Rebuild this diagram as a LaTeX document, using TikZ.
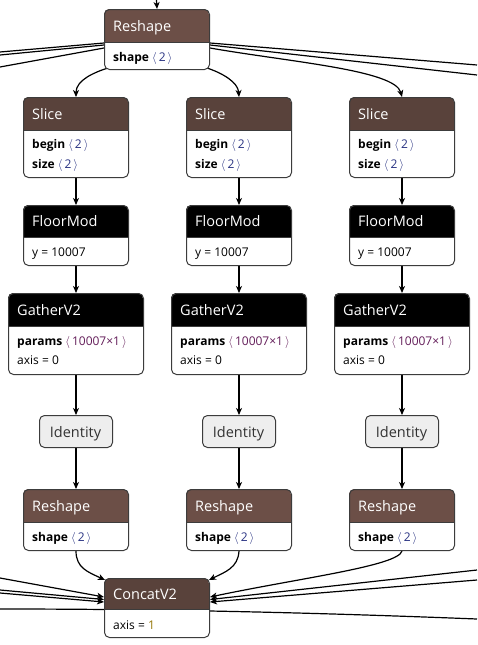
\documentclass[tikz,border=0pt]{standalone}
\usepackage{fontspec}
\setmainfont{Open Sans}
\usetikzlibrary{arrows.meta,calc}
\pgfdeclarelayer{bg}
\pgfsetlayers{bg,main}
\definecolor{shapec}{RGB}{108,79,71}
\definecolor{tensc}{RGB}{89,66,59}
\definecolor{bordc}{RGB}{60,60,60}
\definecolor{idfill}{RGB}{238,238,238}
\definecolor{shpc}{RGB}{40,50,130}
\definecolor{prmc}{RGB}{100,30,90}
\definecolor{numc}{RGB}{150,120,10}
\newcommand\shp[2][shpc]{{\color{#1}$\langle\,$#2$\,\rangle$}}
\newcommand\opbox[8]{%
  \begin{scope}
    \clip[rounded corners=5pt] (#2,#3) rectangle ++(#4,#6);
    \fill[#7] (#2,#3) rectangle ++(#4,#5);
    \fill[white] (#2,#3+#5) rectangle ++(#4,#6-#5);
  \end{scope}
  \draw[bordc, line width=0.8pt] (#2,#3+#5) -- ++(#4,0);
  \node[boxn, minimum width=#4pt, minimum height=#6pt] (#1) at (#2,#3) {};
  \node[titlen] at (#2+9,#3+#5/2+5.5) {#8};
}
\begin{document}
\begin{tikzpicture}[x=1pt,y=-1pt,
  boxn/.style={draw=bordc, line width=1pt, rounded corners=5pt, inner sep=0pt, anchor=north west},
  titlen/.style={anchor=base west, inner sep=0pt, text=white, font=\fontsize{14.5}{16}\selectfont},
  rown/.style={anchor=base west, inner sep=0pt, font=\fontsize{12}{14}\selectfont},
  idn/.style={draw=bordc, line width=1pt, fill=idfill, rounded corners=5pt, inner sep=0pt, minimum width=73pt, minimum height=32pt, anchor=north west},
  idt/.style={anchor=base, inner sep=0pt, text=black!80, font=\fontsize{14.5}{16}\selectfont},
  edge/.style={line width=1.2pt, draw=black},
  arr/.style={edge, -{Stealth[length=7pt,width=6pt,inset=2pt]}},
]
\useasboundingbox (0,0) rectangle (477,645);
% top reshape
\opbox{rt}{104}{9}{105}{33}{60}{shapec}{Reshape}
\node[rown] at (113,61) {\textbf{shape}\ \shp{2}};
% columns
\foreach \i/\dx in {1/0,2/163,3/326}{
  \opbox{sl\i}{23+\dx}{97}{105}{33}{80}{tensc}{Slice}
  \node[rown] at (32+\dx,148) {\textbf{begin}\ \shp{2}};
  \node[rown] at (32+\dx,168) {\textbf{size}\ \shp{2}};
  \opbox{fm\i}{23+\dx}{205}{105}{32}{60}{black}{FloorMod}
  \node[rown] at (32+\dx,256) {y = 10007};
  \opbox{gv\i}{8+\dx}{293}{135}{33}{81}{black}{GatherV2}
  \node[rown] at (17+\dx,345) {\textbf{params}\ \shp[prmc]{10007×1}};
  \node[rown] at (17+\dx,364) {axis = 0};
  \node[idn] (id\i) at (39+\dx,415) {};
  \node[idt] at (75.5+\dx,437) {Identity};
  \opbox{rb\i}{23+\dx}{489}{105}{33}{61}{shapec}{Reshape}
  \node[rown] at (32+\dx,541) {\textbf{shape}\ \shp{2}};
}
% concat
\opbox{cc}{104}{578}{105}{31}{59}{tensc}{ConcatV2}
\node[rown] at (113,629) {axis = {\color{numc}1}};
\begin{pgfonlayer}{bg}
  \fill[white] (0,0) rectangle (477,645);
  \coordinate (tin) at (156.5,0);
  \draw[arr] (tin) -- (rt.north);
  \coordinate (lo1) at (0,52);
  \coordinate (lo2) at (0,55);
  \coordinate (lo3) at (0,67);
  \draw[edge] ($(rt.north west)+(0,34)$) -- (lo1);
  \draw[edge] ($(rt.north west)+(0,36)$) -- (lo2);
  \draw[edge] ($(rt.north west)+(0,39)$) -- (lo3);
  \coordinate (ro1) at (477,65);
  \coordinate (ro2) at (477,75);
  \draw[edge] ($(rt.north east)+(0,34)$) -- (ro1);
  \draw[edge] ($(rt.north east)+(0,36)$) -- (ro2);
  \draw[arr] ($(rt.north east)+(0,39)$) .. controls (290,62) and (395,70) .. (sl3.north);
  \draw[arr] ($(rt.south west)+(4,-2)$) .. controls (95,72) and (76,80) .. (sl1.north);
  \draw[arr] ($(rt.south east)+(-3,-2)$) .. controls (222,73) and (238,82) .. (sl2.north);
  \foreach \i in {1,2,3}{
    \draw[arr] (sl\i.south) -- (fm\i.north);
    \draw[arr] (fm\i.south) -- (gv\i.north);
    \draw[arr] (gv\i.south) -- (id\i.north);
    \draw[arr] (id\i.south) -- (rb\i.north);
  }
  \draw[arr] (rb1.south) .. controls (76,568) and (88,572) .. ($(cc.north west)+(1,2)$);
  \draw[arr] (rb2.south) .. controls (238,568) and (225,572) .. ($(cc.north east)+(-1,2)$);
  \draw[arr] (rb3.south) .. controls (398,566) and (300,578) .. ($(cc.north east)+(0,19)$);
  \coordinate (ri1) at (477,570);
  \coordinate (ri2) at (477,580);
  \draw[arr] (ri1) -- ($(cc.north east)+(0,21.5)$);
  \draw[arr] (ri2) -- ($(cc.north east)+(0,24)$);
  \coordinate (li1) at (0,578);
  \coordinate (li2) at (0,590);
  \coordinate (li3) at (0,593);
  \draw[arr] (li1) -- ($(cc.north west)+(0,19)$);
  \draw[arr] (li2) -- ($(cc.north west)+(0,21.5)$);
  \draw[arr] (li3) -- ($(cc.north west)+(0,24)$);
  \coordinate (th1) at (0,609);
  \coordinate (th2) at (477,619);
  \draw[edge] (th1) .. controls (150,609) and (300,612) .. (th2);
\end{pgfonlayer}
\end{tikzpicture}
\end{document}
